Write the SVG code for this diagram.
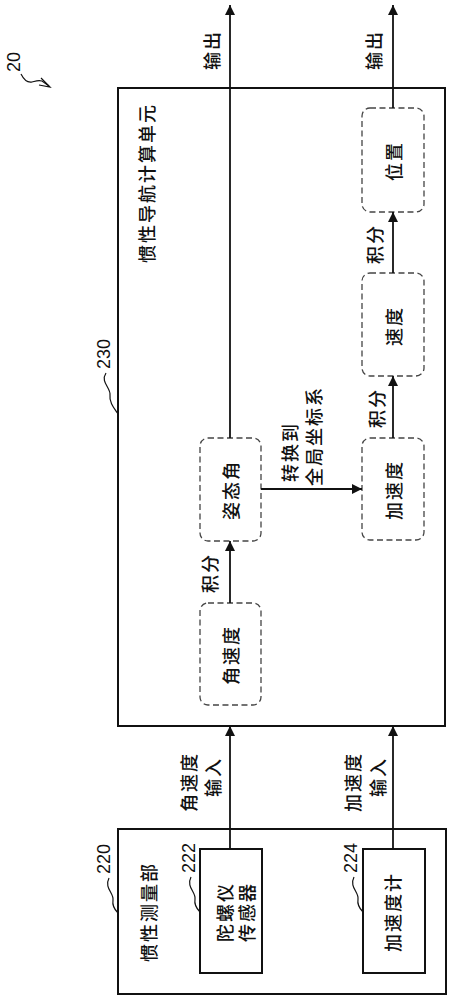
<svg xmlns="http://www.w3.org/2000/svg" width="453" height="1000" viewBox="0 0 453 1000">
<style>
.box{fill:none;stroke:#111;stroke-width:2}
.dbox{fill:none;stroke:#444;stroke-width:1.3;stroke-dasharray:6 3.5}
.ln{fill:none;stroke:#111;stroke-width:1.8}
.sq{fill:none;stroke:#111;stroke-width:1.2}
.t{font-family:"Noto Sans CJK SC","Noto Sans CJK JP",sans-serif;font-size:18px;font-weight:500;letter-spacing:2px;fill:#111;text-anchor:middle;dominant-baseline:central}
.ts{font-family:"Noto Sans CJK SC","Noto Sans CJK JP",sans-serif;font-size:18px;font-weight:500;letter-spacing:2px;fill:#111;text-anchor:start;dominant-baseline:central}
.n{font-family:"Liberation Sans",Arial,sans-serif;font-size:18px;fill:#111;text-anchor:middle;dominant-baseline:central}
</style>
<defs>
<marker id="ah" viewBox="0 0 10 10" refX="10" refY="5" markerWidth="10" markerHeight="10" markerUnits="userSpaceOnUse" orient="auto">
<path d="M0,0 L10,5 L0,10 Z" fill="#111"/>
</marker>
</defs>
<rect width="453" height="1000" fill="#fff"/>

<g id="ref20">
<text class="n" transform="translate(14,62) rotate(-90)">20</text>
<path class="sq" d="M21,74 C24,80 27,83 32,82 C36,81 38,80 42,81 L49,86"/>
<path class="sq" d="M41,78 L50,87 L39,85"/>
</g>

<g id="n230">
<rect class="box" x="118" y="88" width="327" height="638"/>
<text class="t" transform="translate(146,183) rotate(-90)">惯性导航计算单元</text>
<text class="n" transform="translate(104,354) rotate(-90)">230</text>
<path class="sq" d="M106,373 C100,382 111,388 110,395 C109,402 114,408 118,414"/>
</g>

<g id="n-pos">
<rect class="dbox" x="362" y="108" width="62" height="104" rx="8"/>
<text class="t" transform="translate(393,161) rotate(-90)">位置</text>
</g>
<g id="n-vel">
<rect class="dbox" x="362" y="273" width="62" height="103" rx="8"/>
<text class="t" transform="translate(393,326) rotate(-90)">速度</text>
</g>
<g id="n-acc">
<rect class="dbox" x="362" y="438" width="62" height="102" rx="8"/>
<text class="t" transform="translate(393,490) rotate(-90)">加速度</text>
</g>
<g id="n-att">
<rect class="dbox" x="200" y="438" width="61" height="103" rx="8"/>
<text class="t" transform="translate(230,490) rotate(-90)">姿态角</text>
</g>
<g id="n-angvel">
<rect class="dbox" x="200" y="603" width="61" height="102" rx="8"/>
<text class="t" transform="translate(230,655) rotate(-90)">角速度</text>
</g>

<g id="n220">
<rect class="box" x="118" y="829" width="328" height="165"/>
<text class="t" transform="translate(148,912) rotate(-90)">惯性测量部</text>
<text class="n" transform="translate(104,859) rotate(-90)">220</text>
<path class="sq" d="M109,878 C104,888 114,893 113,900 C112,906 115,910 118,913"/>
</g>
<g id="n222">
<rect class="box" x="200" y="849" width="62" height="124"/>
<text class="t" transform="translate(224,912) rotate(-90)">陀螺仪</text>
<text class="t" transform="translate(246,912) rotate(-90)">传感器</text>
<text class="n" transform="translate(189,858) rotate(-90)">222</text>
<path class="sq" d="M191,877 C186,887 196,892 195,899 C194,905 197,909 200,912"/>
</g>
<g id="n224">
<rect class="box" x="363" y="849" width="62" height="124"/>
<text class="t" transform="translate(392,912) rotate(-90)">加速度计</text>
<text class="n" transform="translate(351,858) rotate(-90)">224</text>
<path class="sq" d="M354,877 C349,887 359,892 358,899 C357,905 360,909 363,912"/>
</g>

<g id="connectors">
<line class="ln" x1="230" y1="438" x2="230" y2="5" marker-end="url(#ah)"/>
<line class="ln" x1="393" y1="108" x2="393" y2="5" marker-end="url(#ah)"/>
<line class="ln" x1="393" y1="273" x2="393" y2="212" marker-end="url(#ah)"/>
<line class="ln" x1="393" y1="438" x2="393" y2="376" marker-end="url(#ah)"/>
<line class="ln" x1="230" y1="603" x2="230" y2="541" marker-end="url(#ah)"/>
<line class="ln" x1="261" y1="489" x2="362" y2="489" marker-end="url(#ah)"/>
<line class="ln" x1="230" y1="849" x2="230" y2="726" marker-end="url(#ah)"/>
<line class="ln" x1="393" y1="849" x2="393" y2="726" marker-end="url(#ah)"/>
<text class="t" transform="translate(211,50) rotate(-90)">输出</text>
<text class="t" transform="translate(373,50) rotate(-90)">输出</text>
<text class="t" transform="translate(374,244) rotate(-90)">积分</text>
<text class="t" transform="translate(376,408) rotate(-90)">积分</text>
<text class="t" transform="translate(209,573) rotate(-90)">积分</text>
<text class="ts" transform="translate(289,482) rotate(-90)">转换到</text>
<text class="ts" transform="translate(313,486) rotate(-90)">全局坐标系</text>
<text class="t" transform="translate(188,782) rotate(-90)">角速度</text>
<text class="t" transform="translate(212,777) rotate(-90)">输入</text>
<text class="t" transform="translate(352,782) rotate(-90)">加速度</text>
<text class="t" transform="translate(377,777) rotate(-90)">输入</text>
</g>
</svg>
